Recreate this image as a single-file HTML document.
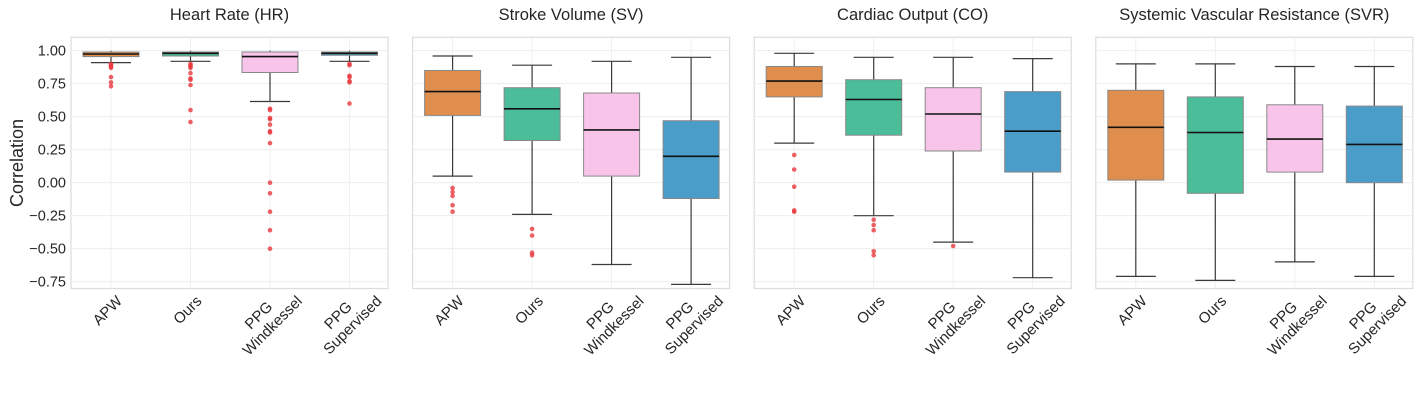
<!DOCTYPE html>
<html><head><meta charset="utf-8"><style>
html,body{margin:0;padding:0;background:#fff;width:1419px;height:402px;overflow:hidden}
svg{display:block;font-family:"Liberation Sans",sans-serif}
.fr{fill:#fff;stroke:#dcdcdc;stroke-width:1.2}
.g{stroke:#ececec;stroke-width:0.8}
.w{stroke:#3a3a3a;stroke-width:1.2}
.bx{stroke:#888;stroke-width:1}
.m{stroke:#111;stroke-width:1.6}
.o{fill:#e8383d;opacity:0.8}
.t{font-size:16.5px;fill:#262626;text-anchor:middle}
.tk{font-size:14.5px;fill:#262626;text-anchor:end}
.xl{font-size:15px;fill:#262626;text-anchor:end}
</style></head><body>
<svg width="1419" height="402" xmlns="http://www.w3.org/2000/svg">
<defs>
<g id="grid">
<rect class="fr" x="0" y="37.3" width="317" height="251.2"/>
<line class="g" x1="0" x2="317" y1="50.7" y2="50.7"/><line class="g" x1="0" x2="317" y1="83.7" y2="83.7"/>
<line class="g" x1="0" x2="317" y1="116.7" y2="116.7"/><line class="g" x1="0" x2="317" y1="149.7" y2="149.7"/>
<line class="g" x1="0" x2="317" y1="182.7" y2="182.7"/><line class="g" x1="0" x2="317" y1="215.7" y2="215.7"/>
<line class="g" x1="0" x2="317" y1="248.7" y2="248.7"/><line class="g" x1="0" x2="317" y1="281.7" y2="281.7"/>
<line class="g" x1="40" x2="40" y1="37.3" y2="288.5"/><line class="g" x1="119.5" x2="119.5" y1="37.3" y2="288.5"/>
<line class="g" x1="199" x2="199" y1="37.3" y2="288.5"/><line class="g" x1="278.5" x2="278.5" y1="37.3" y2="288.5"/>
<text class="xl" transform="translate(52,302) rotate(-45)">APW</text>
<text class="xl" transform="translate(131.5,302) rotate(-45)">Ours</text>
<text class="xl" transform="translate(220,290) rotate(-45)"><tspan x="-25" dy="0">PPG</tspan><tspan x="0" dy="17">Windkessel</tspan></text>
<text class="xl" transform="translate(299.5,290) rotate(-45)"><tspan x="-25" dy="0">PPG</tspan><tspan x="0" dy="17">Supervised</tspan></text>
</g>
</defs>

<text class="tk" x="66" y="55.7">1.00</text><text class="tk" x="66" y="88.7">0.75</text>
<text class="tk" x="66" y="121.7">0.50</text><text class="tk" x="66" y="154.7">0.25</text>
<text class="tk" x="66" y="187.7">0.00</text><text class="tk" x="66" y="220.7">−0.25</text>
<text class="tk" x="66" y="253.7">−0.50</text><text class="tk" x="66" y="286.7">−0.75</text>
<text transform="translate(23,163) rotate(-90)" font-size="18" fill="#262626" text-anchor="middle">Correlation</text>

<!-- Panel 1 HR -->
<g transform="translate(71,0)">
<use href="#grid"/>
<text class="t" x="158.5" y="20">Heart Rate (HR)</text>
<g transform="translate(40,0)">
<line class="w" x1="0" x2="0" y1="50.7" y2="62.6"/><line class="w" x1="-20" x2="20" y1="62.6" y2="62.6"/>
<rect class="bx" x="-28" y="52" width="56" height="4.6" fill="#e08e4d"/><line class="m" x1="-28" x2="28" y1="54" y2="54"/>
<circle class="o" cy="63.9" r="2.3"/><circle class="o" cy="65.2" r="2.3"/><circle class="o" cy="66.5" r="2.3"/><circle class="o" cy="67.9" r="2.3"/><circle class="o" cy="77.1" r="2.3"/><circle class="o" cy="82.4" r="2.3"/><circle class="o" cy="86.3" r="2.3"/>
</g>
<g transform="translate(119.5,0)">
<line class="w" x1="0" x2="0" y1="50.7" y2="61.3"/><line class="w" x1="-20" x2="20" y1="61.3" y2="61.3"/>
<rect class="bx" x="-28" y="52" width="56" height="4" fill="#4bbd98"/><line class="m" x1="-28" x2="28" y1="53.3" y2="53.3"/>
<circle class="o" cy="63.9" r="2.3"/><circle class="o" cy="65.2" r="2.3"/><circle class="o" cy="66.5" r="2.3"/><circle class="o" cy="67.9" r="2.3"/><circle class="o" cy="73.1" r="2.3"/><circle class="o" cy="78.4" r="2.3"/><circle class="o" cy="79.7" r="2.3"/><circle class="o" cy="85" r="2.3"/><circle class="o" cy="110.1" r="2.3"/><circle class="o" cy="122" r="2.3"/>
</g>
<g transform="translate(199,0)">
<line class="w" x1="0" x2="0" y1="50.7" y2="101.5"/><line class="w" x1="-20" x2="20" y1="101.5" y2="101.5"/>
<rect class="bx" x="-28" y="52" width="56" height="20.5" fill="#f9c4ea"/><line class="m" x1="-28" x2="28" y1="56.6" y2="56.6"/>
<circle class="o" cy="108.8" r="2.3"/><circle class="o" cy="110.1" r="2.3"/><circle class="o" cy="118" r="2.3"/><circle class="o" cy="119.3" r="2.3"/><circle class="o" cy="124.6" r="2.3"/><circle class="o" cy="131.2" r="2.3"/><circle class="o" cy="132.5" r="2.3"/><circle class="o" cy="143.1" r="2.3"/><circle class="o" cy="182.7" r="2.3"/><circle class="o" cy="193.3" r="2.3"/><circle class="o" cy="211.7" r="2.3"/><circle class="o" cy="230.2" r="2.3"/><circle class="o" cy="248.7" r="2.3"/>
</g>
<g transform="translate(278.5,0)">
<line class="w" x1="0" x2="0" y1="50.7" y2="61.3"/><line class="w" x1="-20" x2="20" y1="61.3" y2="61.3"/>
<rect class="bx" x="-28" y="52" width="56" height="3.3" fill="#4a9dc9"/><line class="m" x1="-28" x2="28" y1="53.3" y2="53.3"/>
<circle class="o" cy="63.9" r="2.3"/><circle class="o" cy="65.2" r="2.3"/><circle class="o" cy="75.8" r="2.3"/><circle class="o" cy="77.1" r="2.3"/><circle class="o" cy="81.1" r="2.3"/><circle class="o" cy="82.4" r="2.3"/><circle class="o" cy="103.5" r="2.3"/>
</g>
</g>

<!-- Panel 2 SV -->
<g transform="translate(412.6,0)">
<use href="#grid"/>
<text class="t" x="158.5" y="20">Stroke Volume (SV)</text>
<g transform="translate(40,0)">
<line class="w" x1="0" x2="0" y1="56" y2="176.1"/><line class="w" x1="-20" x2="20" y1="56" y2="56"/><line class="w" x1="-20" x2="20" y1="176.1" y2="176.1"/>
<rect class="bx" x="-28" y="70.5" width="56" height="44.9" fill="#e08e4d"/><line class="m" x1="-28" x2="28" y1="91.6" y2="91.6"/>
<circle class="o" cy="188" r="2.3"/><circle class="o" cy="192" r="2.3"/><circle class="o" cy="195.9" r="2.3"/><circle class="o" cy="205.2" r="2.3"/><circle class="o" cy="211.7" r="2.3"/>
</g>
<g transform="translate(119.5,0)">
<line class="w" x1="0" x2="0" y1="65.2" y2="214.4"/><line class="w" x1="-20" x2="20" y1="65.2" y2="65.2"/><line class="w" x1="-20" x2="20" y1="214.4" y2="214.4"/>
<rect class="bx" x="-28" y="87.7" width="56" height="52.8" fill="#4bbd98"/><line class="m" x1="-28" x2="28" y1="108.8" y2="108.8"/>
<circle class="o" cy="228.9" r="2.3"/><circle class="o" cy="235.5" r="2.3"/><circle class="o" cy="252.7" r="2.3"/><circle class="o" cy="255.3" r="2.3"/>
</g>
<g transform="translate(199,0)">
<line class="w" x1="0" x2="0" y1="61.3" y2="264.5"/><line class="w" x1="-20" x2="20" y1="61.3" y2="61.3"/><line class="w" x1="-20" x2="20" y1="264.5" y2="264.5"/>
<rect class="bx" x="-28" y="93" width="56" height="83.1" fill="#f9c4ea"/><line class="m" x1="-28" x2="28" y1="129.9" y2="129.9"/>
</g>
<g transform="translate(278.5,0)">
<line class="w" x1="0" x2="0" y1="57.3" y2="284.4"/><line class="w" x1="-20" x2="20" y1="57.3" y2="57.3"/><line class="w" x1="-20" x2="20" y1="284.4" y2="284.4"/>
<rect class="bx" x="-28" y="120.7" width="56" height="77.8" fill="#4a9dc9"/><line class="m" x1="-28" x2="28" y1="156.3" y2="156.3"/>
</g>
</g>

<!-- Panel 3 CO -->
<g transform="translate(754.2,0)">
<use href="#grid"/>
<text class="t" x="158.5" y="20">Cardiac Output (CO)</text>
<g transform="translate(40,0)">
<line class="w" x1="0" x2="0" y1="53.3" y2="143.1"/><line class="w" x1="-20" x2="20" y1="53.3" y2="53.3"/><line class="w" x1="-20" x2="20" y1="143.1" y2="143.1"/>
<rect class="bx" x="-28" y="66.5" width="56" height="30.4" fill="#e08e4d"/><line class="m" x1="-28" x2="28" y1="81.1" y2="81.1"/>
<circle class="o" cy="155" r="2.3"/><circle class="o" cy="169.5" r="2.3"/><circle class="o" cy="186.7" r="2.3"/><circle class="o" cy="210.4" r="2.3"/><circle class="o" cy="211.7" r="2.3"/>
</g>
<g transform="translate(119.5,0)">
<line class="w" x1="0" x2="0" y1="57.3" y2="215.7"/><line class="w" x1="-20" x2="20" y1="57.3" y2="57.3"/><line class="w" x1="-20" x2="20" y1="215.7" y2="215.7"/>
<rect class="bx" x="-28" y="79.7" width="56" height="55.5" fill="#4bbd98"/><line class="m" x1="-28" x2="28" y1="99.5" y2="99.5"/>
<circle class="o" cy="219.7" r="2.3"/><circle class="o" cy="225" r="2.3"/><circle class="o" cy="230.2" r="2.3"/><circle class="o" cy="251.3" r="2.3"/><circle class="o" cy="255.3" r="2.3"/>
</g>
<g transform="translate(199,0)">
<line class="w" x1="0" x2="0" y1="57.3" y2="242.1"/><line class="w" x1="-20" x2="20" y1="57.3" y2="57.3"/><line class="w" x1="-20" x2="20" y1="242.1" y2="242.1"/>
<rect class="bx" x="-28" y="87.7" width="56" height="63.3" fill="#f9c4ea"/><line class="m" x1="-28" x2="28" y1="114" y2="114"/>
<circle class="o" cy="246" r="2.3"/>
</g>
<g transform="translate(278.5,0)">
<line class="w" x1="0" x2="0" y1="58.6" y2="277.7"/><line class="w" x1="-20" x2="20" y1="58.6" y2="58.6"/><line class="w" x1="-20" x2="20" y1="277.7" y2="277.7"/>
<rect class="bx" x="-28" y="91.6" width="56" height="80.5" fill="#4a9dc9"/><line class="m" x1="-28" x2="28" y1="131.2" y2="131.2"/>
</g>
</g>

<!-- Panel 4 SVR -->
<g transform="translate(1095.8,0)">
<use href="#grid"/>
<text class="t" x="158.5" y="20">Systemic Vascular Resistance (SVR)</text>
<g transform="translate(40,0)">
<line class="w" x1="0" x2="0" y1="63.9" y2="276.4"/><line class="w" x1="-20" x2="20" y1="63.9" y2="63.9"/><line class="w" x1="-20" x2="20" y1="276.4" y2="276.4"/>
<rect class="bx" x="-28" y="90.3" width="56" height="89.8" fill="#e08e4d"/><line class="m" x1="-28" x2="28" y1="127.3" y2="127.3"/>
</g>
<g transform="translate(119.5,0)">
<line class="w" x1="0" x2="0" y1="63.9" y2="280.4"/><line class="w" x1="-20" x2="20" y1="63.9" y2="63.9"/><line class="w" x1="-20" x2="20" y1="280.4" y2="280.4"/>
<rect class="bx" x="-28" y="96.9" width="56" height="96.4" fill="#4bbd98"/><line class="m" x1="-28" x2="28" y1="132.5" y2="132.5"/>
</g>
<g transform="translate(199,0)">
<line class="w" x1="0" x2="0" y1="66.5" y2="261.9"/><line class="w" x1="-20" x2="20" y1="66.5" y2="66.5"/><line class="w" x1="-20" x2="20" y1="261.9" y2="261.9"/>
<rect class="bx" x="-28" y="104.8" width="56" height="67.3" fill="#f9c4ea"/><line class="m" x1="-28" x2="28" y1="139.1" y2="139.1"/>
</g>
<g transform="translate(278.5,0)">
<line class="w" x1="0" x2="0" y1="66.5" y2="276.4"/><line class="w" x1="-20" x2="20" y1="66.5" y2="66.5"/><line class="w" x1="-20" x2="20" y1="276.4" y2="276.4"/>
<rect class="bx" x="-28" y="106.1" width="56" height="76.6" fill="#4a9dc9"/><line class="m" x1="-28" x2="28" y1="144.4" y2="144.4"/>
</g>
</g>
</svg>
</body></html>
